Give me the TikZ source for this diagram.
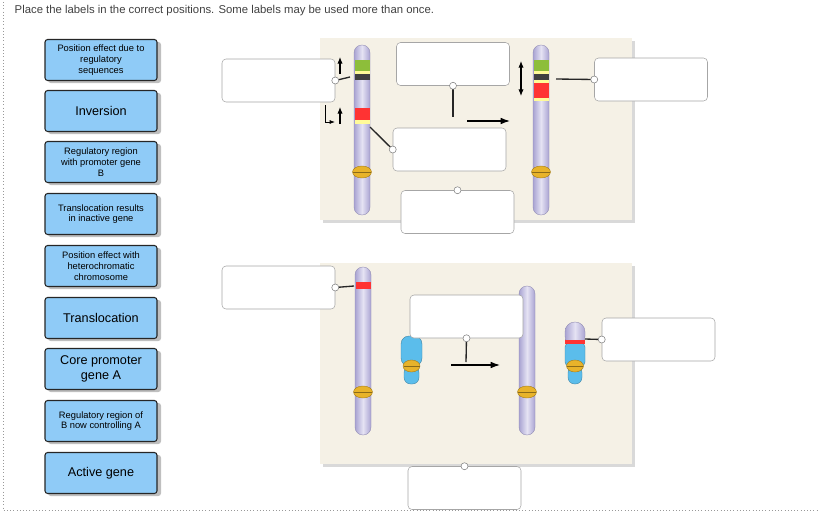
\documentclass[tikz,border=0pt]{standalone}
\usepackage{fontspec}
\setmainfont{Liberation Sans}
\usetikzlibrary{arrows.meta}
\definecolor{beige}{HTML}{F5F1E6}
\definecolor{lblue}{HTML}{8FCBF7}
\definecolor{chr}{HTML}{CBC6E8}
\definecolor{chrd}{HTML}{A9A3D2}
\definecolor{cblue}{HTML}{5BBDEB}
\definecolor{gold}{HTML}{E8B32A}
\definecolor{leaf}{HTML}{8DBE3A}
\tikzset{
 lab/.style={draw=black!85,line width=0.8pt,fill=lblue,rounded corners=2pt,minimum width=112pt*0.75,minimum height=41pt*0.75,align=center,inner sep=1pt,font=\fontsize{7}{8}\selectfont},
 big/.style={font=\fontsize{9.5}{11}\selectfont},
 blank/.style={draw=black!35,fill=white,rounded corners=3pt,minimum width=113pt*0.75,minimum height=43pt*0.75},
 dot/.style={circle,draw=black!50,fill=white,inner sep=0pt,minimum size=7pt*0.75},
 ln/.style={line width=1pt,black!85},
 arr/.style={-{Latex[length=7pt,width=5pt]},line width=0.9pt}
}
\newcommand\chrom[4]{% x, top, bottom, width
 \shade[left color=chrd,right color=chrd,middle color=white!50!chr,draw=chrd!85!black,line width=0.3pt,rounded corners=#4*0.75pt/2-0.1pt] (#1-#4/2,#2) rectangle (#1+#4/2,#3);}
\newcommand\band[5]{\fill[#5] (#1-#4/2,#2) rectangle (#1+#4/2,#3);}
\newcommand\cen[3]{\fill[gold,draw=gold!70!black,line width=0.3pt] (#1,#2) ellipse ({#3/2+1.5} and 6);
 \draw[gold!60!black,line width=0.4pt] (#1-#3/2-1,#2) -- (#1+#3/2+1,#2);}
\begin{document}
\begin{tikzpicture}[x=0.75pt,y=-0.75pt]
\useasboundingbox (0,0) rectangle (821,518);
\draw[black!40,dotted] (3,2) -- (3,510) -- (818,510);
\node[anchor=west,text=black!75,font=\fontsize{8.5}{10}\selectfont] (title) at (10,11) {Place the labels in the correct positions. Some labels may be used more than once.};
\foreach \y/\t/\f [count=\i] in {60/{Position effect due to\\regulatory\\sequences}/, 111/{Inversion}/big, 162/{Regulatory region\\with promoter gene\\B}/, 214/{Translocation results\\in inactive gene}/, 266/{Position effect with\\heterochromatic\\chromosome}/, 318/{Translocation}/big, 369/{Core promoter\\gene A}/big, 421/{Regulatory region of\\B now controlling A}/, 473/{Active gene}/big}{
 \fill[black!25,rounded corners=2pt] (48,\y-18) rectangle (161,\y+23);
 \node[lab,\f] (L\i) at (101,\y) {\t};
}
\fill[black!15] (323,41) rectangle (635,223);
\fill[beige] (320,38) rectangle (632,220);
\fill[black!15] (323,266) rectangle (635,467);
\fill[beige] (320,263) rectangle (632,464);
\chrom{362}{45}{215}{16}
\band{362}{60}{71}{15}{leaf}
\band{362}{71}{74}{15}{yellow!40}
\band{362}{74}{80}{15}{black!75}
\band{362}{108}{120}{15}{red!80}
\band{362}{120}{124}{15}{yellow!40}
\cen{362}{172}{16}
\chrom{541}{45}{215}{16}
\band{541}{60}{71}{15}{leaf}
\band{541}{71}{74}{15}{yellow!40}
\band{541}{74}{80}{15}{black!75}
\band{541}{80}{83}{15}{yellow!40}
\band{541}{83}{98}{15}{red!80}
\band{541}{98}{101}{15}{yellow!40}
\cen{541}{172}{16}
\coordinate (a1) at (340,74); \coordinate (a2) at (340,57);
\draw[-{Latex[length=5pt,width=4pt]},line width=0.8pt] (a1) -- (a2);
\coordinate (b1) at (340,124); \coordinate (b2) at (340,107);
\draw[-{Latex[length=5pt,width=4pt]},line width=0.8pt] (b1) -- (b2);
\coordinate (c1) at (325,105); \coordinate (c2) at (335,122);
\draw[-{Latex[length=4pt,width=3pt]},line width=0.6pt] (c1) |- (c2);
\coordinate (d1) at (521,61); \coordinate (d2) at (521,96);
\draw[{Latex[length=5pt,width=4pt]}-{Latex[length=5pt,width=4pt]},line width=0.8pt] (d1) -- (d2);
\coordinate (e1) at (467,121); \coordinate (e2) at (510,121);
\draw[arr] (e1) -- (e2);
\node[blank] (A) at (278.5,80.5) {};
\node[blank] (B) at (453,64) {};
\node[blank] (C) at (449.5,149.5) {};
\node[blank] (D) at (457.5,212) {};
\node[blank] (E) at (651,79.5) {};
\coordinate (Ac) at (350,77); \coordinate (Bc) at (453,117);
\coordinate (Cc) at (370,127); \coordinate (Ec) at (556,79);
\draw[ln] (A.east) -- (Ac); \node[dot] at (A.east) {};
\draw[ln] (B.south) -- (Bc); \node[dot] at (B.south) {};
\draw[ln] (C.west) -- (Cc); \node[dot] at (C.west) {};
\draw[ln] (E.west) -- (Ec); \node[dot] at (E.west) {};
\node[dot] at (D.north) {};
\chrom{363}{267}{435}{16}
\band{363}{282}{289}{15}{red!80}
\cen{363}{392}{16}
\chrom{527}{286}{435}{16}
\cen{527}{392}{16}
\fill[cblue,draw=cblue!70!black,line width=0.3pt,rounded corners=6pt] (401,336) rectangle (422,366);
\fill[cblue,draw=cblue!70!black,line width=0.3pt,rounded corners=5pt] (404,366) rectangle (419,384);
\cen{411.5}{366}{14}
\chrom{575}{322}{346}{20}
\fill[cblue,draw=cblue!70!black,line width=0.3pt,rounded corners=3pt] (565,343) rectangle (585,366);
\band{575}{340}{344}{20}{red!80}
\fill[cblue,draw=cblue!70!black,line width=0.3pt,rounded corners=5pt] (568,366) rectangle (582,384);
\cen{575}{366}{14}
\coordinate (f1) at (451,365); \coordinate (f2) at (500,365);
\draw[arr] (f1) -- (f2);
\node[blank] (F) at (278.5,287.5) {};
\node[blank] (G) at (466.5,316.5) {};
\node[blank] (H) at (658.5,339.5) {};
\node[blank] (I) at (464.5,488) {};
\coordinate (Fc) at (354,286); \coordinate (Gc) at (466,362); \coordinate (Hc) at (585,339);
\draw[ln] (F.east) -- (Fc); \node[dot] at (F.east) {};
\draw[ln] (G.south) -- (Gc); \node[dot] at (G.south) {};
\draw[ln] (H.west) -- (Hc); \node[dot] at (H.west) {};
\node[dot] at (I.north) {};
\end{tikzpicture}
\end{document}
